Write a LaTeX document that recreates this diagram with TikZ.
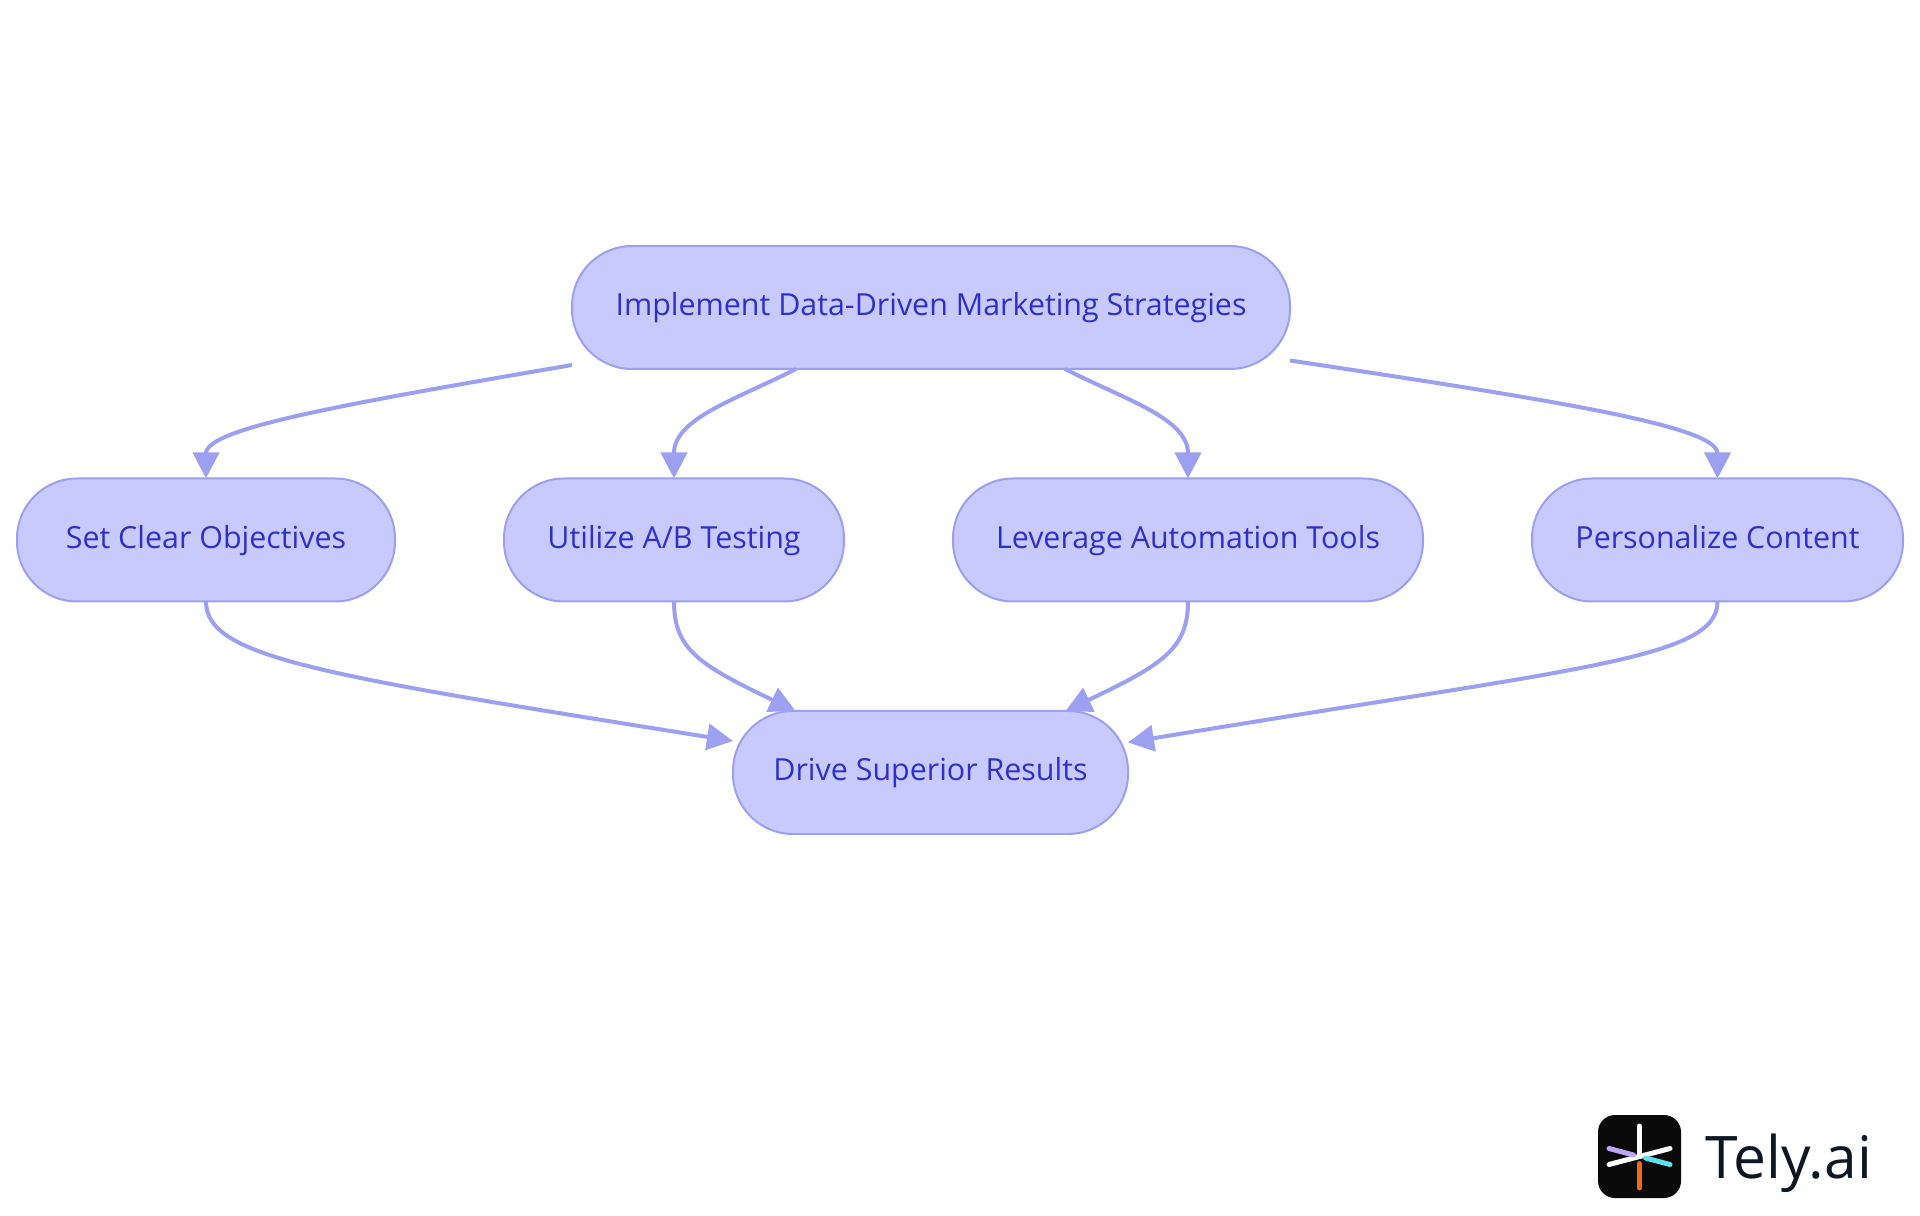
\documentclass[tikz,border=0pt]{standalone}
\usepackage{fontspec}
\setmainfont{Open Sans}
\usetikzlibrary{arrows.meta}
\definecolor{nodefill}{HTML}{C8C9FC}
\definecolor{edgeblue}{HTML}{9D9FF1}
\definecolor{textblue}{HTML}{2D31C9}
\definecolor{logoink}{HTML}{0F1722}
\definecolor{logolilac}{HTML}{BBA6F5}
\definecolor{logocyan}{HTML}{5FE0EE}
\definecolor{logoorange}{HTML}{F26A0F}

\begin{document}
\begin{tikzpicture}[>={Triangle[length=0.52cm,width=0.52cm]},
    pill/.style={rectangle, rounded corners=1.2cm, draw=edgeblue, line width=0.04cm, fill=nodefill, text=textblue, minimum height=2.46cm, outer sep=0pt, inner sep=0pt, text height=0.54cm, text depth=0.2cm, font=\fontsize{17.3}{20}\selectfont},
    arrow/.style={->, line width=0.08cm, edgeblue},
    spoke/.style={line width=0.1cm, line cap=round, white}]

    \useasboundingbox (0,0) rectangle (38.4,24.3);

    % Start
    \node[pill, minimum width=14.36cm] (implement) at (18.62,18.15) {Implement Data-Driven Marketing Strategies};

    % Middle row
    \node[pill, minimum width=7.56cm] (objectives) at (4.12,13.5) {Set Clear Objectives};
    \node[pill, minimum width=6.8cm] (testing) at (13.48,13.5) {Utilize A/B Testing};
    \node[pill, minimum width=9.4cm] (automation) at (23.76,13.5) {Leverage Automation Tools};
    \node[pill, minimum width=7.42cm] (personalize) at (34.35,13.5) {Personalize Content};

    % Result
    \node[pill, minimum width=7.9cm] (results) at (18.61,8.85) {Drive Superior Results};

    % Arrows out of the start
    \draw[arrow] ([yshift=-1.15cm]implement.west) .. controls +(-4.66,-0.8) and +(0,1.0) .. (objectives.north);
    \draw[arrow] ([xshift=-2.7cm]implement.south) .. controls +(-1.22,-0.62) and +(0,1.2) .. (testing.north);
    \draw[arrow] ([xshift=2.68cm]implement.south) .. controls +(1.22,-0.62) and +(0,1.2) .. (automation.north);
    \draw[arrow] ([yshift=-1.06cm]implement.east) .. controls +(5.44,-0.82) and +(0,1.04) .. (personalize.north);

    % Arrows into the result
    \draw[arrow] (objectives.south) .. controls +(0,-1.12) and +(-8.26,1.32) .. ([yshift=0.63cm]results.west);
    \draw[arrow] (testing.south) .. controls +(0,-0.96) and +(-1.92,0.92) .. ([xshift=-2.7cm]results.north);
    \draw[arrow] (automation.south) .. controls +(0,-0.96) and +(1.92,0.92) .. ([xshift=2.7cm]results.north);
    \draw[arrow] (personalize.south) .. controls +(0,-1.16) and +(9.02,1.5) .. ([yshift=0.6cm]results.east);

    % Logo
    \node[rectangle, rounded corners=0.34cm, fill=black!96, minimum width=1.66cm, minimum height=1.66cm, outer sep=0pt, inner sep=0pt] (logo) at (32.79,1.17) {};
    \draw[spoke] (logo.center) -- ++(0,0.61);
    \draw[spoke] (logo.center) -- ++(-0.61,-0.16);
    \draw[spoke] (logo.center) -- ++(0.61,0.16);
    \draw[spoke, logolilac] ([xshift=-0.12cm,yshift=0.03cm]logo.center) -- ++(-0.49,0.13);
    \draw[spoke, logocyan] ([xshift=0.12cm,yshift=-0.03cm]logo.center) -- ++(0.49,-0.13);
    \draw[spoke, logoorange] ([yshift=-0.14cm]logo.center) -- ++(0,-0.49);
    \node[font=\fontsize{33.4}{38}\selectfont, text=logoink, anchor=base west, inner sep=0pt] (brand) at (34.1,0.74) {Tely.ai};

\end{tikzpicture}
\end{document}
